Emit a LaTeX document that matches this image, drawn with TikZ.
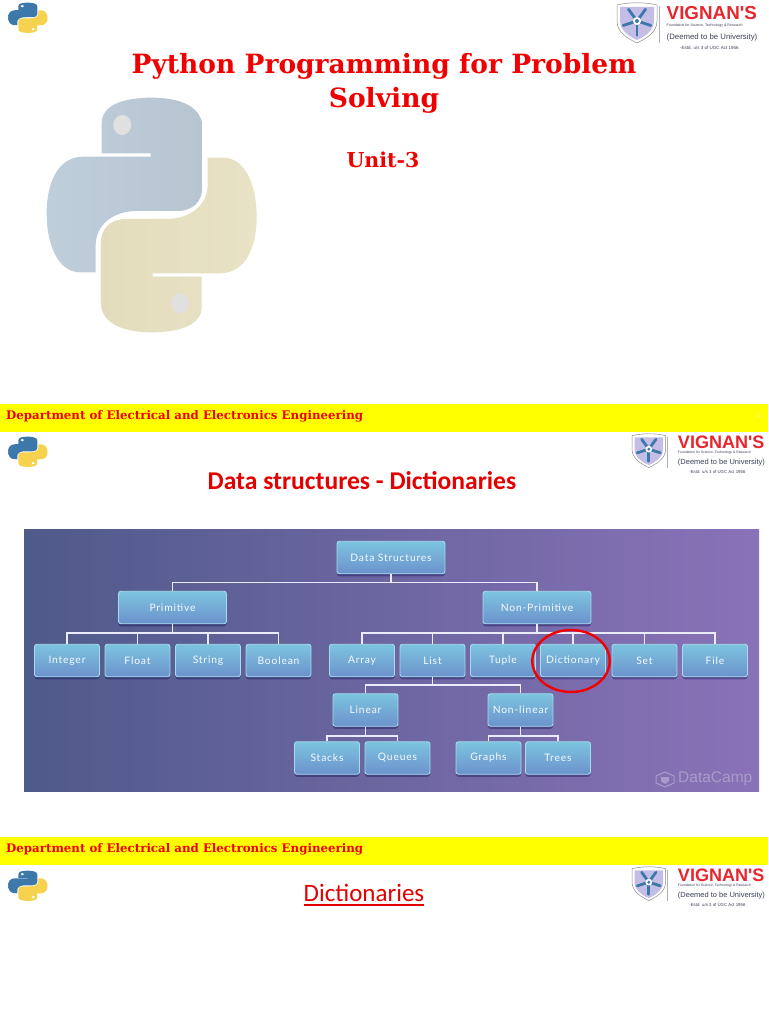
\documentclass[tikz,border=0pt]{standalone}
\usepackage{fontspec}
\setmainfont{DejaVu Serif}
\newfontfamily\carlito{Carlito}
\newfontfamily\lato[LetterSpace=8]{Lato}
\newfontfamily\arialf{Liberation Sans}
\usetikzlibrary{shadows}
\definecolor{slidered}{HTML}{F00000}
\definecolor{band}{HTML}{FFFF00}
\definecolor{vred}{HTML}{E8262E}
\definecolor{vgrey}{HTML}{3A3F55}
\definecolor{boxtop}{HTML}{7CC4DF}
\definecolor{boxbot}{HTML}{6C92CC}
\definecolor{boxline}{HTML}{A6DDEC}
\definecolor{bgleft}{HTML}{4F5A8A}
\definecolor{bgmid}{HTML}{675F96}
\definecolor{bgright}{HTML}{8A72B8}
\definecolor{fadeblueA}{HTML}{BFCEDB}
\definecolor{fadeblueB}{HTML}{B6C5D0}
\definecolor{fadeyelA}{HTML}{E3DCBC}
\definecolor{fadeyelB}{HTML}{E8E2C6}
\definecolor{pyblue}{HTML}{3C78A9}
\definecolor{pyyellow}{HTML}{F6D24F}
\definecolor{water}{HTML}{A99CCB}
\definecolor{shieldfill}{HTML}{C4BEE6}
\newcommand{\snakepath}{(215,205) -- (215,115) .. controls (215,60) and (280,38) .. (365,38) .. controls (460,38) and (518,70) .. (518,130) -- (518,300) .. controls (518,350) and (490,378) .. (440,378) -- (320,378) .. controls (250,378) and (197,420) .. (197,480) -- (197,562) -- (150,562) .. controls (85,562) and (50,480) .. (50,385) .. controls (50,290) and (85,215) .. (160,215) -- (362,215) -- (362,205) -- cycle}
% #1 x, #2 y, #3 xscale, #4 yscale, #5 blue-a, #6 blue-b, #7 yellow-a, #8 yellow-b, #9 eye
\newcommand{\pylogo}[9]{%
\begin{scope}[shift={(#1,#2)},x=#3pt,y=-#4pt]
\shade[left color=#5,right color=#6] \snakepath;
\begin{scope}[shift={(730,780)},x=-#3pt,y=#4pt]
\shade[left color=#7,right color=#8] \snakepath;
\end{scope}
\fill[#9] (277,120) ellipse (27 and 30);
\fill[#9] (450,655) ellipse (27 and 30);
\end{scope}}
% #1 x, #2 y, #3 shield scale, #4 lettering scale, #5 lettering x offset
\newcommand{\vlogo}[5]{%
\begin{scope}[shift={(#1,#2)},x=#3pt,y=-#3pt,vt/.style={anchor=west,inner sep=0,scale=#4,text=vgrey}]
\fill[white,draw=black!45,line width=.5pt] (0,2) .. controls (12,-1) and (28,-1) .. (40,2) -- (40,18) .. controls (40,30) and (28,36) .. (20,40) .. controls (12,36) and (0,30) .. (0,18) -- cycle;
\fill[shieldfill] (3,4) -- (37,4) -- (37,18) .. controls (37,28) and (27,34) .. (20,37) .. controls (13,34) and (3,28) .. (3,18) -- cycle;
\foreach \a in {90,162,234,306,18}
  \draw[line width=2.8pt,color=pyblue,line cap=round] (20,18) -- ++(\a:14.5);
\fill[white] (20,18) circle (4);
\fill[pyblue] (20,18) circle (2);
\draw[black!30,line width=.5pt] (42.5,3) -- (42.5,40);
\node[vt,text=vred,font={\arialf\bfseries\fontsize{18.8}{20}\selectfont}] at (#5,10) {VIGNAN'S};
\node[vt,font={\arialf\fontsize{3.55}{5}\selectfont}] at (#5,22.5) {Foundation for Science, Technology \& Research};
\node[vt,font={\arialf\fontsize{7.8}{10}\selectfont}] at (#5,34) {(Deemed to be University)};
\node[vt,font={\arialf\fontsize{4.5}{5}\selectfont}] at (#5+13.5,45) {-Estd. u/s 3 of UGC Act 1956};
\end{scope}}
\tikzset{
  bandbox/.style={fill=band,draw=none},
  bandtext/.style={anchor=west,inner sep=0,text=slidered,font={\bfseries\fontsize{11.8}{14}\selectfont}},
  bigtitle/.style={inner sep=0,text=slidered,font={\bfseries\fontsize{26.5}{34}\selectfont}},
  dsbox/.style={rectangle,rounded corners=2.5pt,draw=boxline,line width=.9pt,top color=boxtop,bottom color=boxbot,
    minimum height=32.5pt,inner sep=0,text=white!92!boxtop,font={\lato\fontsize{10.3}{12}\selectfont},
    drop shadow={shadow xshift=0pt,shadow yshift=-2.5pt,opacity=.35,fill=black!70!blue}},
  wide/.style={dsbox,minimum width=108pt},
  narrow/.style={dsbox,minimum width=65pt},
  link/.style={draw=white!92!blue,line width=1.5pt},
}
\begin{document}
\begin{tikzpicture}[x=1pt,y=-1pt]
\useasboundingbox (0,0) rectangle (768,1024);
\fill[white] (0,0) rectangle (768,1024);
% slide 1
\pylogo{30}{85}{.3333}{.3333}{fadeblueA}{fadeblueB}{fadeyelA}{fadeyelB}{black!12}
\pylogo{5}{1}{.0625}{.043}{pyblue}{pyblue}{pyyellow}{pyyellow}{white}
\vlogo{617}{3}{1}{1}{49.5}
\node[bigtitle,align=center] (t1a) at (384,66) {Python Programming for Problem};
\node[bigtitle] (t1b) at (384,100) {Solving};
\node[anchor=base,inner sep=0,text=slidered,font={\bfseries\fontsize{20.5}{24}\selectfont}] (t1c) at (383,168) {Unit-3};
\fill[bandbox] (0,404) rectangle (768,432);
\node[bandtext] (d1) at (6,416) {Department of Electrical and Electronics Engineering};
\node[inner sep=0,text=white!85!yellow,font=\fontsize{7}{8}\selectfont] (n1) at (759,416) {1};
% slide 2
\pylogo{5}{435}{.0625}{.043}{pyblue}{pyblue}{pyyellow}{pyyellow}{white}
\vlogo{632}{434}{.84}{.96}{54.5}
\node[inner sep=0,text=red!90!black,font={\carlito\bfseries\fontsize{25.6}{30}\selectfont}] (t2) at (362,481) {Data structures - Dictionaries};
\shade[left color=bgleft,middle color=bgmid,right color=bgright] (24,529) rectangle (759,791);
\node[wide] (ds) at (391,557.5) {Data Structures};
\node[wide] (prim) at (172.5,607.5) {Primitive};
\node[wide] (nprim) at (537,607.5) {Non-Primitive};
\node[narrow] (int) at (67,660.5) {Integer};
\node[narrow] (flo) at (137.5,660.5) {Float};
\node[narrow] (str) at (208,660.5) {String};
\node[narrow] (boo) at (278.5,660.5) {Boolean};
\node[narrow] (arr) at (362,660.5) {Array};
\node[narrow] (lis) at (432.5,660.5) {List};
\node[narrow] (tup) at (503,660.5) {Tuple};
\node[narrow] (dic) at (573,660.5) {Dictionary};
\node[narrow] (set) at (644.5,660.5) {Set};
\node[narrow] (fil) at (715,660.5) {File};
\node[narrow] (lin) at (365.5,710) {Linear};
\node[narrow] (nli) at (520.5,710) {Non-linear};
\node[narrow] (sta) at (327,758) {Stacks};
\node[narrow] (que) at (397.5,758) {Queues};
\node[narrow] (gra) at (488.5,758) {Graphs};
\node[narrow] (tre) at (558,758) {Trees};
\coordinate (jds) at (391,582.5);
\coordinate (jpr) at (172.5,633);
\coordinate (jnp) at (537,633);
\coordinate (jli) at (432.5,685);
\coordinate (jln) at (365.5,736);
\coordinate (jnl) at (520.5,736);
\draw[link] (ds.south) -- (jds) -| (prim.north);
\draw[link] (jds) -| (nprim.north);
\draw[link] (prim.south) -- (jpr);
\foreach \c in {int,flo,str,boo} \draw[link] (jpr) -| (\c.north);
\draw[link] (nprim.south) -- (jnp);
\foreach \c in {arr,lis,tup,dic,set,fil} \draw[link] (jnp) -| (\c.north);
\draw[link] (lis.south) -- (jli);
\foreach \c in {lin,nli} \draw[link] (jli) -| (\c.north);
\draw[link] (lin.south) -- (jln);
\foreach \c in {sta,que} \draw[link] (jln) -| (\c.north);
\draw[link] (nli.south) -- (jnl);
\foreach \c in {gra,tre} \draw[link] (jnl) -| (\c.north);
\draw[red!95!black,line width=2.4pt] (571,661) ellipse (38.7 and 31);
% watermark
\begin{scope}[shift={(655,772)}]
\draw[water,line width=1pt,line join=round] (10,0) -- (19,4) -- (19,11) -- (10,15) -- (1,11) -- (1,4) -- cycle;
\fill[water] (6,5) -- (14,5) -- (14,9) -- (10,12) -- (6,9) -- cycle;
\end{scope}
\node[anchor=west,inner sep=0,text=water,font={\arialf\fontsize{15.5}{17}\selectfont}] (dc) at (678,779) {DataCamp};
\fill[bandbox] (0,837) rectangle (768,865);
\node[bandtext] (d2) at (6,849) {Department of Electrical and Electronics Engineering};
% slide 3
\pylogo{5}{869}{.0625}{.043}{pyblue}{pyblue}{pyyellow}{pyyellow}{white}
\vlogo{632}{867}{.84}{.96}{54.5}
\node[inner sep=0,text=red!90!black,font={\carlito\fontsize{25}{30}\selectfont}] (t3) at (364,893) {Dictionaries};
\draw[red!90!black,line width=1.2pt] (304,905) -- (424,905);
\end{tikzpicture}
\end{document}
